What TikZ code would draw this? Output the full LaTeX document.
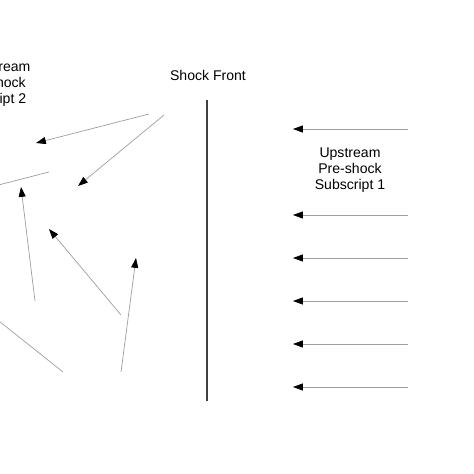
\documentclass[tikz,border=0pt]{standalone}
\usepackage{fontspec}
\setmainfont{Liberation Sans}
\usepackage{tikz}
\usetikzlibrary{arrows.meta}

\begin{document}
\begin{tikzpicture}[x=0.025cm, y=-0.025cm,
    flow/.style={draw=black!38, line width=0.5pt, -{Triangle[color=black, length=7pt, width=5pt]}},
    label/.style={align=center, font=\fontsize{10}{11.4}\selectfont}]
    \clip (0,0) rectangle (474,474);
    \useasboundingbox (0,0) rectangle (474,474);

    % shock front
    \coordinate (top) at (207,100);
    \coordinate (bottom) at (207,401);
    \draw [black!75, line width=0.9pt] (top) -- (bottom);
    \node [label] (front) at (208,75) {Shock Front};

    % upstream side
    \node [label] (up) at (350,170) {Upstream\\Pre-shock\\Subscript 1};
    \foreach \y [count=\i] in {129,215,258,301,344,387} {
        \coordinate (in\i) at (408,\y);
        \coordinate (out\i) at (293,\y);
        \draw [flow] (in\i) -- (out\i);
    }

    % downstream side
    \node [label] (down) at (-9,84) {Downstream\\Post-shock\\Subscript 2};
    \coordinate (a1) at (149,114); \coordinate (b1) at (36,143);
    \coordinate (a2) at (164,115); \coordinate (b2) at (78,186);
    \coordinate (a3) at (49,172);  \coordinate (b3) at (-60,200);
    \coordinate (a4) at (35,301);  \coordinate (b4) at (21,187);
    \coordinate (a5) at (121,315); \coordinate (b5) at (49,229);
    \coordinate (a6) at (121,372); \coordinate (b6) at (136,258);
    \coordinate (a7) at (63,372);  \coordinate (b7) at (-40,290);
    \foreach \i in {1,...,7}
        \draw [flow] (a\i) -- (b\i);
\end{tikzpicture}
\end{document}
